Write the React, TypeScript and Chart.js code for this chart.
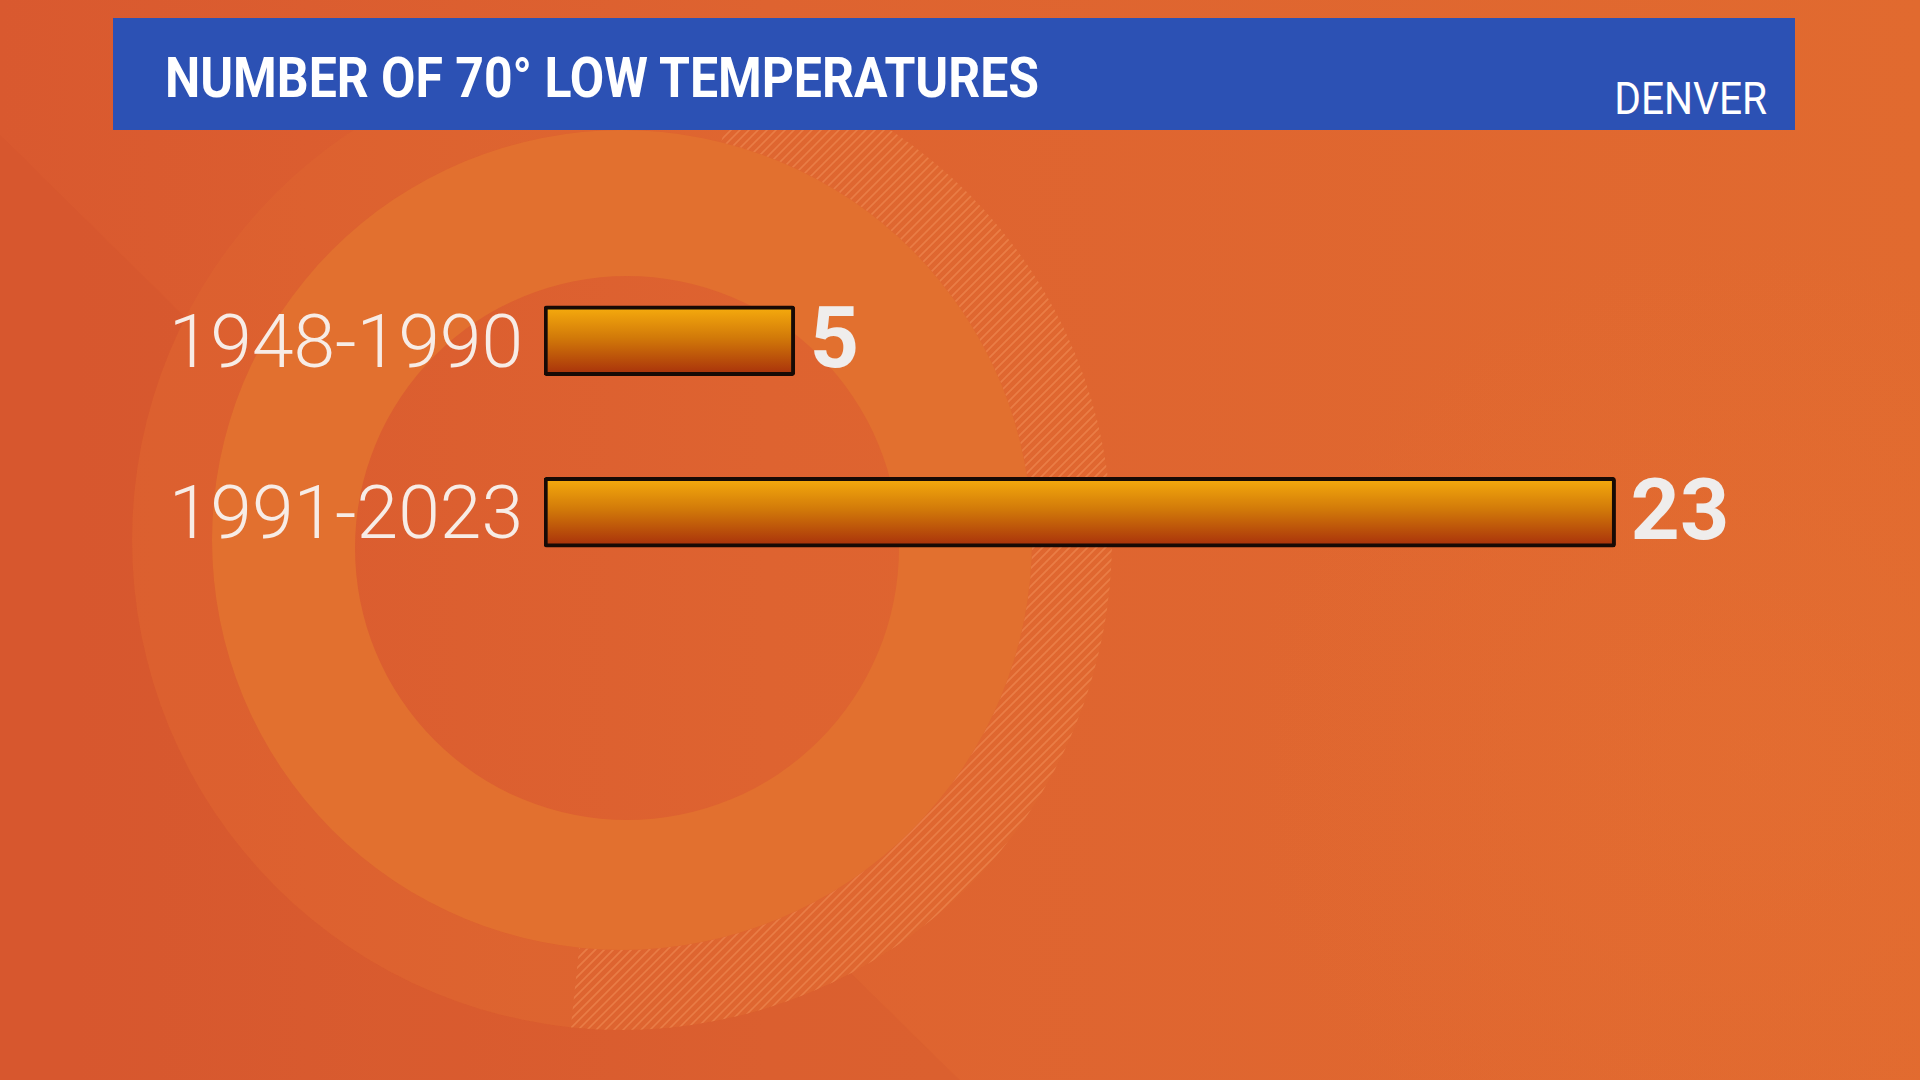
import React, { useEffect, useRef } from "react";
import { Chart, registerables } from "chart.js";

Chart.register(...registerables);

const categories = ["1948-1990", "1991-2023"];
const counts = [5, 23];
const titleText = "NUMBER OF 70° LOW TEMPERATURES";
const locationText = "DENVER";

const bgPlugin = {
  id: "bgArt",
  beforeDraw(chart: any) {
    const { ctx, width, height } = chart;
    const cx = 622, cy = 540;
    ctx.save();
    const g = ctx.createLinearGradient(0, 0, width, 0);
    g.addColorStop(0, "#d9592f");
    g.addColorStop(0.4, "#de6330");
    g.addColorStop(1, "#e16a2f");
    ctx.fillStyle = g;
    ctx.fillRect(0, 0, width, height);

    // faint darker diagonal wedge on the left (outside the circle motif)
    ctx.save();
    ctx.beginPath();
    ctx.rect(0, 0, width, height);
    ctx.arc(cx, cy, 490, 0, Math.PI * 2, true);
    ctx.clip("evenodd");
    ctx.beginPath();
    ctx.moveTo(0, 135);
    ctx.lineTo(1000, 1120);
    ctx.lineTo(0, 1120);
    ctx.closePath();
    ctx.fillStyle = "rgba(205,78,45,0.18)";
    ctx.fill();
    ctx.restore();

    // faint light region bottom-right
    const rg = ctx.createRadialGradient(1760, 760, 0, 1760, 760, 520);
    rg.addColorStop(0, "rgba(235,120,55,0.22)");
    rg.addColorStop(1, "rgba(235,120,55,0)");
    ctx.fillStyle = rg;
    ctx.fillRect(0, 0, width, height);

    // outer faint ring
    ctx.beginPath();
    ctx.arc(cx, cy, 490, 0, Math.PI * 2);
    ctx.arc(cx, cy, 410, 0, Math.PI * 2, true);
    ctx.fillStyle = "rgba(228,112,50,0.22)";
    ctx.fill("evenodd");

    // hatch on right / bottom of outer ring
    ctx.save();
    ctx.beginPath();
    ctx.arc(cx, cy, 490, 0, Math.PI * 2);
    ctx.arc(cx, cy, 410, 0, Math.PI * 2, true);
    ctx.clip("evenodd");
    ctx.beginPath();
    ctx.moveTo(cx, cy);
    ctx.arc(cx, cy, 700, (-76 * Math.PI) / 180, (96 * Math.PI) / 180);
    ctx.closePath();
    ctx.clip();
    ctx.strokeStyle = "rgba(240,140,85,0.6)";
    ctx.lineWidth = 1.6;
    ctx.beginPath();
    for (let i = -1200; i < 2200; i += 9) {
      ctx.moveTo(i, 1080);
      ctx.lineTo(i + 1080, 0);
    }
    ctx.stroke();
    ctx.restore();

    // main light ring
    ctx.beginPath();
    ctx.arc(cx, cy, 410, 0, Math.PI * 2);
    ctx.arc(cx + 5, cy + 8, 272, 0, Math.PI * 2, true);
    ctx.fillStyle = "#e2702f";
    ctx.fill("evenodd");
    ctx.restore();
  },
};

const valuePlugin = {
  id: "valueLabels",
  afterDatasetsDraw(chart: any) {
    const { ctx } = chart;
    const meta = chart.getDatasetMeta(0);
    const data = chart.data.datasets[0].data;
    ctx.save();
    ctx.fillStyle = "#efedec";
    ctx.font = "700 86px Roboto";
    ctx.textAlign = "left";
    ctx.textBaseline = "middle";
    meta.data.forEach((el: any, i: number) => {
      ctx.fillText(String(data[i]), el.x + 15, el.y + 5);
    });
    ctx.restore();
  },
};

export default function App() {
  const canvasRef = useRef<HTMLCanvasElement>(null);
  const titleRef = useRef<HTMLSpanElement>(null);
  const locRef = useRef<HTMLSpanElement>(null);

  useEffect(() => {
    document.body.style.margin = "0";
    const fit = () => {
      const pairs: [HTMLSpanElement | null, number][] = [
        [titleRef.current, 874],
        [locRef.current, 153],
      ];
      pairs.forEach(([el, target]) => {
        if (!el) return;
        el.style.transform = "none";
        const w = el.getBoundingClientRect().width;
        if (w > 0) el.style.transform = `scaleX(${target / w})`;
      });
    };
    fit();
    if ((document as any).fonts?.ready) (document as any).fonts.ready.then(fit);

    const canvas = canvasRef.current!;
    const chart = new Chart(canvas, {
      type: "bar",
      data: {
        labels: categories,
        datasets: [
          {
            data: counts,
            base: -0.5,
            barThickness: 70,
            borderWidth: 4,
            borderColor: "#170a05",
            borderRadius: 3,
            borderSkipped: false,
            backgroundColor: (c: any) => {
              const ch = c.chart;
              const ys = ch.scales && ch.scales.y;
              if (!ys || !ch.chartArea || c.dataIndex === undefined) return "#d27a0a";
              const yc = ys.getPixelForValue(c.dataIndex);
              const g = ch.ctx.createLinearGradient(0, yc - 33, 0, yc + 33);
              g.addColorStop(0, "#f5aa0d");
              g.addColorStop(0.45, "#d27a09");
              g.addColorStop(1, "#a9320b");
              return g;
            },
          } as any,
        ],
      },
      options: {
        indexAxis: "y",
        responsive: false,
        maintainAspectRatio: false,
        animation: false,
        layout: { padding: { left: 0, right: 122, top: 255, bottom: 482 } },
        plugins: {
          legend: { display: false },
          tooltip: { enabled: false },
          title: { display: false },
        },
        scales: {
          x: { display: false, min: -0.5, max: 27 },
          y: {
            grid: { display: false, drawTicks: false },
            border: { display: false },
            ticks: {
              padding: 21,
              labelOffset: 7,
              color: "#f7ece6",
              font: { family: "Roboto", weight: "300", size: 75 },
            },
            afterFit: (s: any) => {
              s.width = 544;
            },
          },
        },
      } as any,
      plugins: [bgPlugin, valuePlugin],
    });
    return () => chart.destroy();
  }, []);

  return (
    <div style={{ position: "absolute", left: 0, top: 0, width: 1920, height: 1080, overflow: "hidden" }}>
      <canvas ref={canvasRef} width={1920} height={1080} style={{ position: "absolute", left: 0, top: 0 }} />
      <div
        style={{
          position: "absolute",
          left: 113,
          top: 18,
          width: 1682,
          height: 112,
          background: "#2c51b4",
        }}
      >
        <span
          ref={titleRef}
          style={{
            position: "absolute",
            left: 52,
            top: 32,
            fontFamily: "Roboto",
            fontWeight: 700,
            fontSize: 56,
            lineHeight: "56px",
            color: "#ffffff",
            whiteSpace: "nowrap",
            transformOrigin: "left center",
          }}
        >
          {titleText}
        </span>
        <span
          ref={locRef}
          style={{
            position: "absolute",
            right: 28,
            top: 58,
            fontFamily: "Roboto",
            fontWeight: 400,
            fontSize: 45,
            lineHeight: "45px",
            color: "#ffffff",
            whiteSpace: "nowrap",
            transformOrigin: "right center",
          }}
        >
          {locationText}
        </span>
      </div>
    </div>
  );
}
